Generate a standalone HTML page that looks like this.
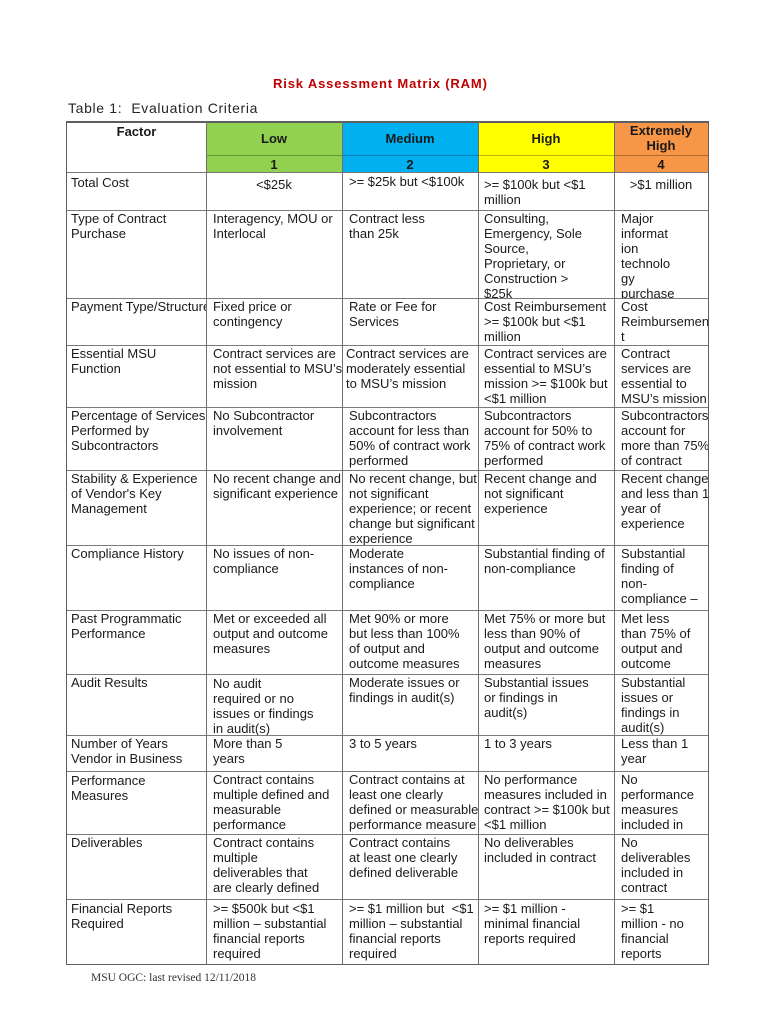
<!DOCTYPE html>
<html>
<head>
<meta charset="utf-8">
<style>
  html, body { margin:0; padding:0; background:#fff; }
  body { width:770px; height:1024px; position:relative; overflow:hidden;
         font-family:"Liberation Sans", Arial, sans-serif; color:#1a1a1a; }
  .abs { position:absolute; }
  .title { left:273px; top:76px; font-size:13px; line-height:15px; font-weight:bold;
           color:#C00000; letter-spacing:0.85px; white-space:nowrap; }
  .sub { left:68px; top:100px; font-size:14px; line-height:16px; color:#262626;
         letter-spacing:0.65px; white-space:pre; }
  .foot { left:91px; top:971px; font-family:"Liberation Serif", "Times New Roman", serif;
          font-size:11.5px; line-height:14px; color:#333; white-space:nowrap; }
  .cell { position:absolute; overflow:hidden; white-space:nowrap; font-size:13px;
          line-height:15px; padding-top:1px; box-sizing:border-box; }
  .c0 { left:67px; width:139px; padding-left:4px; }
  .c1 { left:206px; width:136px; padding-left:7px; }
  .c2 { left:342px; width:136px; padding-left:7px; }
  .c3 { left:478px; width:136px; padding-left:6px; }
  .c4 { left:614px; width:94px; padding-left:7px; }
  .ctr { text-align:center; padding-left:0; }
  .hd { position:absolute; display:flex; align-items:center; justify-content:center;
        text-align:center; font-weight:bold; font-size:13px; line-height:15px; color:#1a1a1a; }
  .hl { position:absolute; left:67px; width:642px; height:1px; background:#7a7a7a; }
  .vl { position:absolute; top:121px; height:844px; width:1px; background:#6e6e6e; }
</style>
</head>
<body>
<div class="abs title">Risk Assessment Matrix (RAM)</div>
<div class="abs sub">Table 1:  Evaluation Criteria</div>

<!-- header backgrounds -->
<div class="abs" style="left:206px;top:121px;width:136px;height:52px;background:#92D050"></div>
<div class="abs" style="left:342px;top:121px;width:136px;height:52px;background:#00B0F0"></div>
<div class="abs" style="left:478px;top:121px;width:136px;height:52px;background:#FFFF00"></div>
<div class="abs" style="left:614px;top:121px;width:94px;height:52px;background:#F79646"></div>
<div class="abs" style="left:206px;top:155px;width:502px;height:1px;background:rgba(0,0,0,0.28)"></div>

<!-- header text -->
<div class="hd" style="left:67px;top:124px;width:139px;height:15px;">Factor</div>
<div class="hd" style="left:206px;top:122px;width:136px;height:32px;">Low</div>
<div class="hd" style="left:342px;top:122px;width:136px;height:32px;">Medium</div>
<div class="hd" style="left:478px;top:122px;width:136px;height:32px;">High</div>
<div class="hd" style="left:614px;top:122px;width:94px;height:32px;">Extremely<br>High</div>
<div class="hd" style="left:206px;top:156px;width:136px;height:16px;">1</div>
<div class="hd" style="left:342px;top:156px;width:136px;height:16px;">2</div>
<div class="hd" style="left:478px;top:156px;width:136px;height:16px;">3</div>
<div class="hd" style="left:614px;top:156px;width:94px;height:16px;">4</div>

<!-- Total Cost 172.5-210 -->
<div class="cell c0" style="top:173px;height:37px;padding-top:2px;">Total Cost</div>
<div class="cell c1 ctr" style="top:173px;height:37px;padding-top:4px;">&lt;$25k</div>
<div class="cell c2" style="top:173px;height:37px;">&gt;= $25k but &lt;$100k</div>
<div class="cell c3" style="top:173px;height:37px;padding-top:4px;">&gt;= $100k but &lt;$1<br>million</div>
<div class="cell c4 ctr" style="top:173px;height:37px;padding-top:4px;">&gt;$1 million</div>

<!-- Type 210-298 -->
<div class="cell c0" style="top:210px;height:88px;">Type of Contract<br>Purchase</div>
<div class="cell c1" style="top:210px;height:88px;">Interagency, MOU or<br>Interlocal</div>
<div class="cell c2" style="top:210px;height:88px;">Contract less<br>than 25k</div>
<div class="cell c3" style="top:210px;height:88px;">Consulting,<br>Emergency, Sole<br>Source,<br>Proprietary, or<br>Construction &gt;<br>$25k</div>
<div class="cell c4" style="top:210px;height:88px;">Major<br>informat<br>ion<br>technolo<br>gy<br>purchase</div>

<!-- Payment 298-345 -->
<div class="cell c0" style="top:298px;height:47px;">Payment Type/Structure</div>
<div class="cell c1" style="top:298px;height:47px;">Fixed price or<br>contingency</div>
<div class="cell c2" style="top:298px;height:47px;">Rate or Fee for<br>Services</div>
<div class="cell c3" style="top:298px;height:47px;">Cost Reimbursement<br>&gt;= $100k but &lt;$1<br>million</div>
<div class="cell c4" style="top:298px;height:47px;">Cost<br>Reimbursemen<br>t</div>

<!-- Essential 345-407.5 -->
<div class="cell c0" style="top:345px;height:62px;">Essential MSU<br>Function</div>
<div class="cell c1" style="top:345px;height:62px;">Contract services are<br>not essential to MSU’s<br>mission</div>
<div class="cell c2" style="top:345px;height:62px;padding-left:4px;">Contract services are<br>moderately essential<br>to MSU’s mission</div>
<div class="cell c3" style="top:345px;height:62px;">Contract services are<br>essential to MSU’s<br>mission &gt;= $100k but<br>&lt;$1 million</div>
<div class="cell c4" style="top:345px;height:62px;">Contract<br>services are<br>essential to<br>MSU’s mission<br>&lt;$1 million</div>

<!-- Percentage 407.5-470.5 -->
<div class="cell c0" style="top:407px;height:63px;">Percentage of Services<br>Performed by<br>Subcontractors</div>
<div class="cell c1" style="top:407px;height:63px;">No Subcontractor<br>involvement</div>
<div class="cell c2" style="top:407px;height:63px;">Subcontractors<br>account for less than<br>50% of contract work<br>performed</div>
<div class="cell c3" style="top:407px;height:63px;">Subcontractors<br>account for 50% to<br>75% of contract work<br>performed</div>
<div class="cell c4" style="top:407px;height:63px;">Subcontractors<br>account for<br>more than 75%<br>of contract</div>

<!-- Stability 470.5-545 -->
<div class="cell c0" style="top:470px;height:75px;">Stability &amp; Experience<br>of Vendor's Key<br>Management</div>
<div class="cell c1" style="top:470px;height:75px;">No recent change and<br>significant experience</div>
<div class="cell c2" style="top:470px;height:75px;">No recent change, but<br>not significant<br>experience; or recent<br>change but significant<br>experience</div>
<div class="cell c3" style="top:470px;height:75px;">Recent change and<br>not significant<br>experience</div>
<div class="cell c4" style="top:470px;height:75px;">Recent change<br>and less than 1<br>year of<br>experience</div>

<!-- Compliance 545-610 -->
<div class="cell c0" style="top:545px;height:65px;">Compliance History</div>
<div class="cell c1" style="top:545px;height:65px;">No issues of non-<br>compliance</div>
<div class="cell c2" style="top:545px;height:65px;">Moderate<br>instances of non-<br>compliance</div>
<div class="cell c3" style="top:545px;height:65px;">Substantial finding of<br>non-compliance</div>
<div class="cell c4" style="top:545px;height:65px;">Substantial<br>finding of<br>non-<br>compliance –</div>

<!-- Past 610-674 -->
<div class="cell c0" style="top:610px;height:64px;">Past Programmatic<br>Performance</div>
<div class="cell c1" style="top:610px;height:64px;">Met or exceeded all<br>output and outcome<br>measures</div>
<div class="cell c2" style="top:610px;height:64px;">Met 90% or more<br>but less than 100%<br>of output and<br>outcome measures</div>
<div class="cell c3" style="top:610px;height:64px;">Met 75% or more but<br>less than 90% of<br>output and outcome<br>measures</div>
<div class="cell c4" style="top:610px;height:64px;">Met less<br>than 75% of<br>output and<br>outcome</div>

<!-- Audit 674-735 -->
<div class="cell c0" style="top:674px;height:61px;">Audit Results</div>
<div class="cell c1" style="top:674px;height:61px;padding-top:2px;">No audit<br>required or no<br>issues or findings<br>in audit(s)</div>
<div class="cell c2" style="top:674px;height:61px;">Moderate issues or<br>findings in audit(s)</div>
<div class="cell c3" style="top:674px;height:61px;">Substantial issues<br>or findings in<br>audit(s)</div>
<div class="cell c4" style="top:674px;height:61px;">Substantial<br>issues or<br>findings in<br>audit(s)</div>

<!-- Number 735-771 -->
<div class="cell c0" style="top:735px;height:36px;">Number of Years<br>Vendor in Business</div>
<div class="cell c1" style="top:735px;height:36px;">More than 5<br>years</div>
<div class="cell c2" style="top:735px;height:36px;">3 to 5 years</div>
<div class="cell c3" style="top:735px;height:36px;">1 to 3 years</div>
<div class="cell c4" style="top:735px;height:36px;">Less than 1<br>year</div>

<!-- Performance 771-834 -->
<div class="cell c0" style="top:771px;height:63px;padding-top:2px;">Performance<br>Measures</div>
<div class="cell c1" style="top:771px;height:63px;">Contract contains<br>multiple defined and<br>measurable<br>performance</div>
<div class="cell c2" style="top:771px;height:63px;">Contract contains at<br>least one clearly<br>defined or measurable<br>performance measure</div>
<div class="cell c3" style="top:771px;height:63px;">No performance<br>measures included in<br>contract &gt;= $100k but<br>&lt;$1 million</div>
<div class="cell c4" style="top:771px;height:63px;">No<br>performance<br>measures<br>included in</div>

<!-- Deliverables 834-899 -->
<div class="cell c0" style="top:834px;height:65px;">Deliverables</div>
<div class="cell c1" style="top:834px;height:65px;">Contract contains<br>multiple<br>deliverables that<br>are clearly defined</div>
<div class="cell c2" style="top:834px;height:65px;">Contract contains<br>at least one clearly<br>defined deliverable</div>
<div class="cell c3" style="top:834px;height:65px;">No deliverables<br>included in contract</div>
<div class="cell c4" style="top:834px;height:65px;">No<br>deliverables<br>included in<br>contract</div>

<!-- Financial 899-964 -->
<div class="cell c0" style="top:899px;height:65px;padding-top:1.5px;">Financial Reports<br>Required</div>
<div class="cell c1" style="top:899px;height:65px;padding-top:1.5px;">&gt;= $500k but &lt;$1<br>million – substantial<br>financial reports<br>required</div>
<div class="cell c2" style="top:899px;height:65px;padding-top:1.5px;">&gt;= $1 million but&nbsp; &lt;$1<br>million – substantial<br>financial reports<br>required</div>
<div class="cell c3" style="top:899px;height:65px;padding-top:1.5px;">&gt;= $1 million -<br>minimal financial<br>reports required</div>
<div class="cell c4" style="top:899px;height:65px;padding-top:1.5px;">&gt;= $1<br>million - no<br>financial<br>reports</div>

<!-- grid lines -->
<div class="hl" style="top:121px;height:2px;background:#5e5e5e"></div>
<div class="hl" style="top:172px;"></div>
<div class="hl" style="top:210px;"></div>
<div class="hl" style="top:298px;"></div>
<div class="hl" style="top:345px;"></div>
<div class="hl" style="top:407px;"></div>
<div class="hl" style="top:470px;"></div>
<div class="hl" style="top:545px;"></div>
<div class="hl" style="top:610px;"></div>
<div class="hl" style="top:674px;"></div>
<div class="hl" style="top:735px;"></div>
<div class="hl" style="top:771px;"></div>
<div class="hl" style="top:834px;"></div>
<div class="hl" style="top:899px;"></div>
<div class="hl" style="top:964px;background:#5e5e5e"></div>

<div class="vl" style="left:66px;background:#5e5e5e"></div>
<div class="vl" style="left:206px;"></div>
<div class="vl" style="left:342px;"></div>
<div class="vl" style="left:478px;"></div>
<div class="vl" style="left:614px;"></div>
<div class="vl" style="left:708px;background:#5e5e5e"></div>

<div class="abs foot">MSU OGC: last revised 12/11/2018</div>
</body>
</html>
